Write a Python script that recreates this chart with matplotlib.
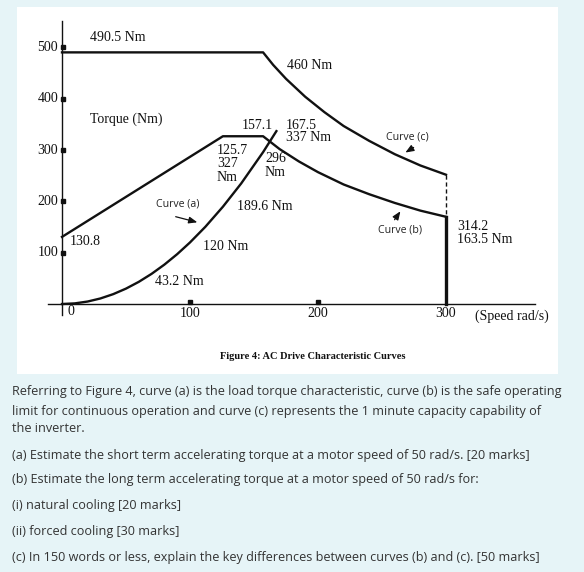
import numpy as np
import matplotlib
matplotlib.use("Agg")
import matplotlib.pyplot as plt
from matplotlib.patches import Rectangle

# curve (a): load torque
speed_a = [0, 10, 20, 30, 40, 50, 60, 70, 80, 90, 100, 112, 125.7, 140, 157.1, 167.5]
torque_a = [0, 1.2, 4.8, 10.8, 19.2, 30, 43.2, 58.8, 76.8, 97.2, 120, 150.5, 189.6, 235, 296, 337]

# curve (b): continuous operation limit
speed_b = [0, 125.7, 157.1, 170, 185, 200, 220, 240, 260, 280, 300]
torque_b = [130.8, 327, 327, 302, 278, 257, 233, 214, 197, 182, 170]

# curve (c): 1 minute capacity
speed_c = [0, 157.1, 165, 175, 190, 205, 220, 240, 260, 280, 300]
torque_c = [490.5, 490.5, 466, 439, 404, 374, 347, 318, 292, 270, 252]

yticks = [100, 200, 300, 400, 500]
xticks = [100, 200]
xticklabels = ["0", "100", "200", "300"]

question = [
    "Referring to Figure 4, curve (a) is the load torque characteristic, curve (b) is the safe operating",
    "limit for continuous operation and curve (c) represents the 1 minute capacity capability of",
    "the inverter.",
    "(a) Estimate the short term accelerating torque at a motor speed of 50 rad/s. [20 marks]",
    "(b) Estimate the long term accelerating torque at a motor speed of 50 rad/s for:",
    "(i) natural cooling [20 marks]",
    "(ii) forced cooling [30 marks]",
    "(c) In 150 words or less, explain the key differences between curves (b) and (c). [50 marks]",
]
question_y = [392, 411, 429, 456, 480, 506, 531, 557]

W, H = 584, 572
# pixel mapping of the scanned figure
X0, SX = 62, 1.28      # x=0 at px 62, 1.28 px per rad/s
Y0, SY = 304, 0.513    # y=0 at px 304, 0.513 px per Nm

def dx(px):
    return (px - X0) / SX

def dy(py):
    return (Y0 - py) / SY

fig = plt.figure(figsize=(W / 100, H / 100), dpi=100, facecolor="#e6f4f7")
ax = fig.add_axes([0, 0, 1, 1])
ax.set_xlim(dx(0), dx(W))
ax.set_ylim(dy(H), dy(0))
ax.axis("off")

ax.add_patch(Rectangle((dx(17), dy(374)), dx(558) - dx(17), dy(7) - dy(374),
                       facecolor="white", edgecolor="none", zorder=0))

k = "#111111"
# axes lines
ax.plot([0, 0], [dy(315), dy(21)], color=k, lw=1.0)
ax.plot([dx(48), dx(535)], [0, 0], color=k, lw=1.0)
ax.plot([dx(63)] * len(yticks), yticks, "s", color=k, ms=2.4)
ax.plot(xticks, [dy(302)] * len(xticks), "s", color=k, ms=2.4)

serif = dict(family="Liberation Serif", color=k)
for t in yticks:
    ax.text(dx(58), t, str(t), ha="right", va="center", fontsize=10, **serif)
ax.text(dx(67), dy(312), xticklabels[0], ha="left", va="center", fontsize=10, **serif)
for lab, v in zip(xticklabels[1:], [100, 200, 300]):
    ax.text(v, dy(314), lab, ha="center", va="center", fontsize=10, **serif)
ax.text(dx(475), dy(316), "(Speed rad/s)", ha="left", va="center", fontsize=10, **serif)

# curves
ax.plot(speed_a, torque_a, color=k, lw=1.7)
ax.plot(speed_b, torque_b, color=k, lw=1.7)
ax.plot([speed_b[-1], speed_b[-1]], [torque_b[-1], 0], color=k, lw=2.4)
ax.plot(speed_c, torque_c, color=k, lw=1.7)
ax.plot([speed_c[-1], speed_c[-1]], [torque_c[-1], torque_b[-1]], color=k, lw=1.0,
        ls=(0, (3, 2)))

# labels on the figure
labels = [
    ("490.5 Nm", 90, 38), ("460 Nm", 287, 66), ("Torque (Nm)", 90, 119),
    ("157.1", 242, 126), ("167.5", 286, 126), ("337 Nm", 286, 138),
    ("125.7", 217, 151), ("327", 217, 164), ("Nm", 217, 178),
    ("296", 265, 159), ("Nm", 265, 173), ("189.6 Nm", 237, 207),
    ("130.8", 70, 242), ("120 Nm", 203, 247), ("43.2 Nm", 155, 282),
    ("314.2", 457, 227), ("163.5 Nm", 457, 240),
]
for s, px, py in labels:
    ax.text(dx(px), dy(py), s, ha="left", va="center", fontsize=10, **serif)

sans = dict(family="Open Sans", color="#222222", fontsize=7.6)
ax.text(dx(156), dy(204), "Curve (a)", ha="left", va="center", **sans)
ax.text(dx(386), dy(137), "Curve (c)", ha="left", va="center", **sans)
ax.text(dx(378), dy(230), "Curve (b)", ha="left", va="center", **sans)
arrow = dict(arrowstyle="-|>,head_length=0.5,head_width=0.2", color=k, lw=0.9)
ax.annotate("", xy=(dx(200), dy(223)), xytext=(dx(173), dy(216)), arrowprops=arrow)
ax.annotate("", xy=(dx(403), dy(154)), xytext=(dx(416), dy(146)), arrowprops=arrow)
ax.annotate("", xy=(dx(402), dy(209)), xytext=(dx(393), dy(222)), arrowprops=arrow)

ax.text(dx(313), dy(357), "Figure 4: AC Drive Characteristic Curves", ha="center",
        va="center", fontsize=7.5, fontweight="bold", **serif)

for line, py in zip(question, question_y):
    fig.text(12 / W, 1 - py / H, line, ha="left", va="center", fontsize=9.1,
             family="Open Sans", color="#333333")

fig.savefig("out.png", dpi=100, facecolor=fig.get_facecolor())
